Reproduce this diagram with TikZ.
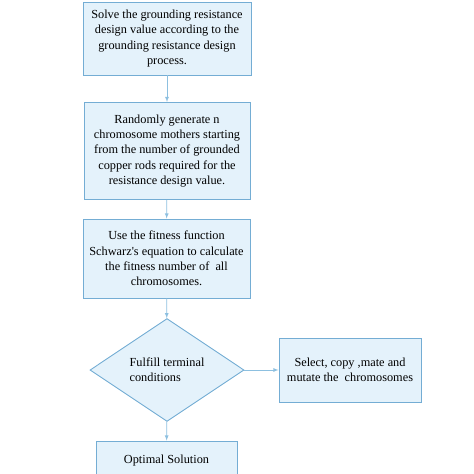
\documentclass[tikz,border=0pt]{standalone}
\usepackage{fontspec}
\setmainfont{Liberation Serif}
\usetikzlibrary{shapes.geometric,arrows}
\definecolor{boxfill}{HTML}{E4F2FB}
\definecolor{boxline}{HTML}{74ADD4}
\definecolor{arrowline}{HTML}{8DC0E0}

\begin{document}
\begin{tikzpicture}[x=1pt,y=-1pt,>=latex,
		stepbox/.style={draw=boxline,line width=0.9pt,fill=boxfill,align=center,
			font=\fontsize{12.3}{15.3}\selectfont,inner sep=2pt},
		testbox/.style={draw=boxline,line width=0.9pt,fill=boxfill,shape=diamond,
			align=left,font=\fontsize{12.3}{15.3}\selectfont,inner sep=1pt,
			minimum width=154pt,minimum height=94pt},
		flow/.style={->,draw=arrowline,line width=0.8pt}]
				\useasboundingbox (0,0) rectangle (474,474);
				\clip (0,0) rectangle (474,474);
				\node[stepbox,minimum width=168pt,minimum height=73pt] (solve) at (167,38.5)
					{Solve the grounding resistance\\design value according to the\\grounding resistance design\\process.};
				\node[stepbox,minimum width=166pt,minimum height=97pt] (generate) at (167,151)
					{Randomly generate n\\chromosome mothers starting\\from the number of grounded\\copper rods required for the\\resistance design value.};
				\node[stepbox,minimum width=167pt,minimum height=79pt] (fitness) at (166.5,258.5)
					{Use the fitness function\\Schwarz\textquotesingle s equation to calculate\\the fitness number of\ \ all\\chromosomes.};
				\node[testbox] (terminal) at (167,370) {Fulfill terminal\\conditions};
				\node[stepbox,minimum width=142pt,minimum height=64pt] (mutate) at (350,370)
					{Select, copy ,mate and\\mutate the\ \ chromosomes};
				\node[stepbox,minimum width=141pt,minimum height=60pt] (optimal) at (166.5,471)
					{\raisebox{24pt}{Optimal Solution}};
				\draw[flow] (solve) to (generate);
				\draw[flow] (generate) to (fitness);
				\draw[flow] (fitness) to (terminal);
				\draw[flow] (terminal) to (optimal);
				\draw[flow] (terminal) to (mutate);
			\end{tikzpicture}
\end{document}
